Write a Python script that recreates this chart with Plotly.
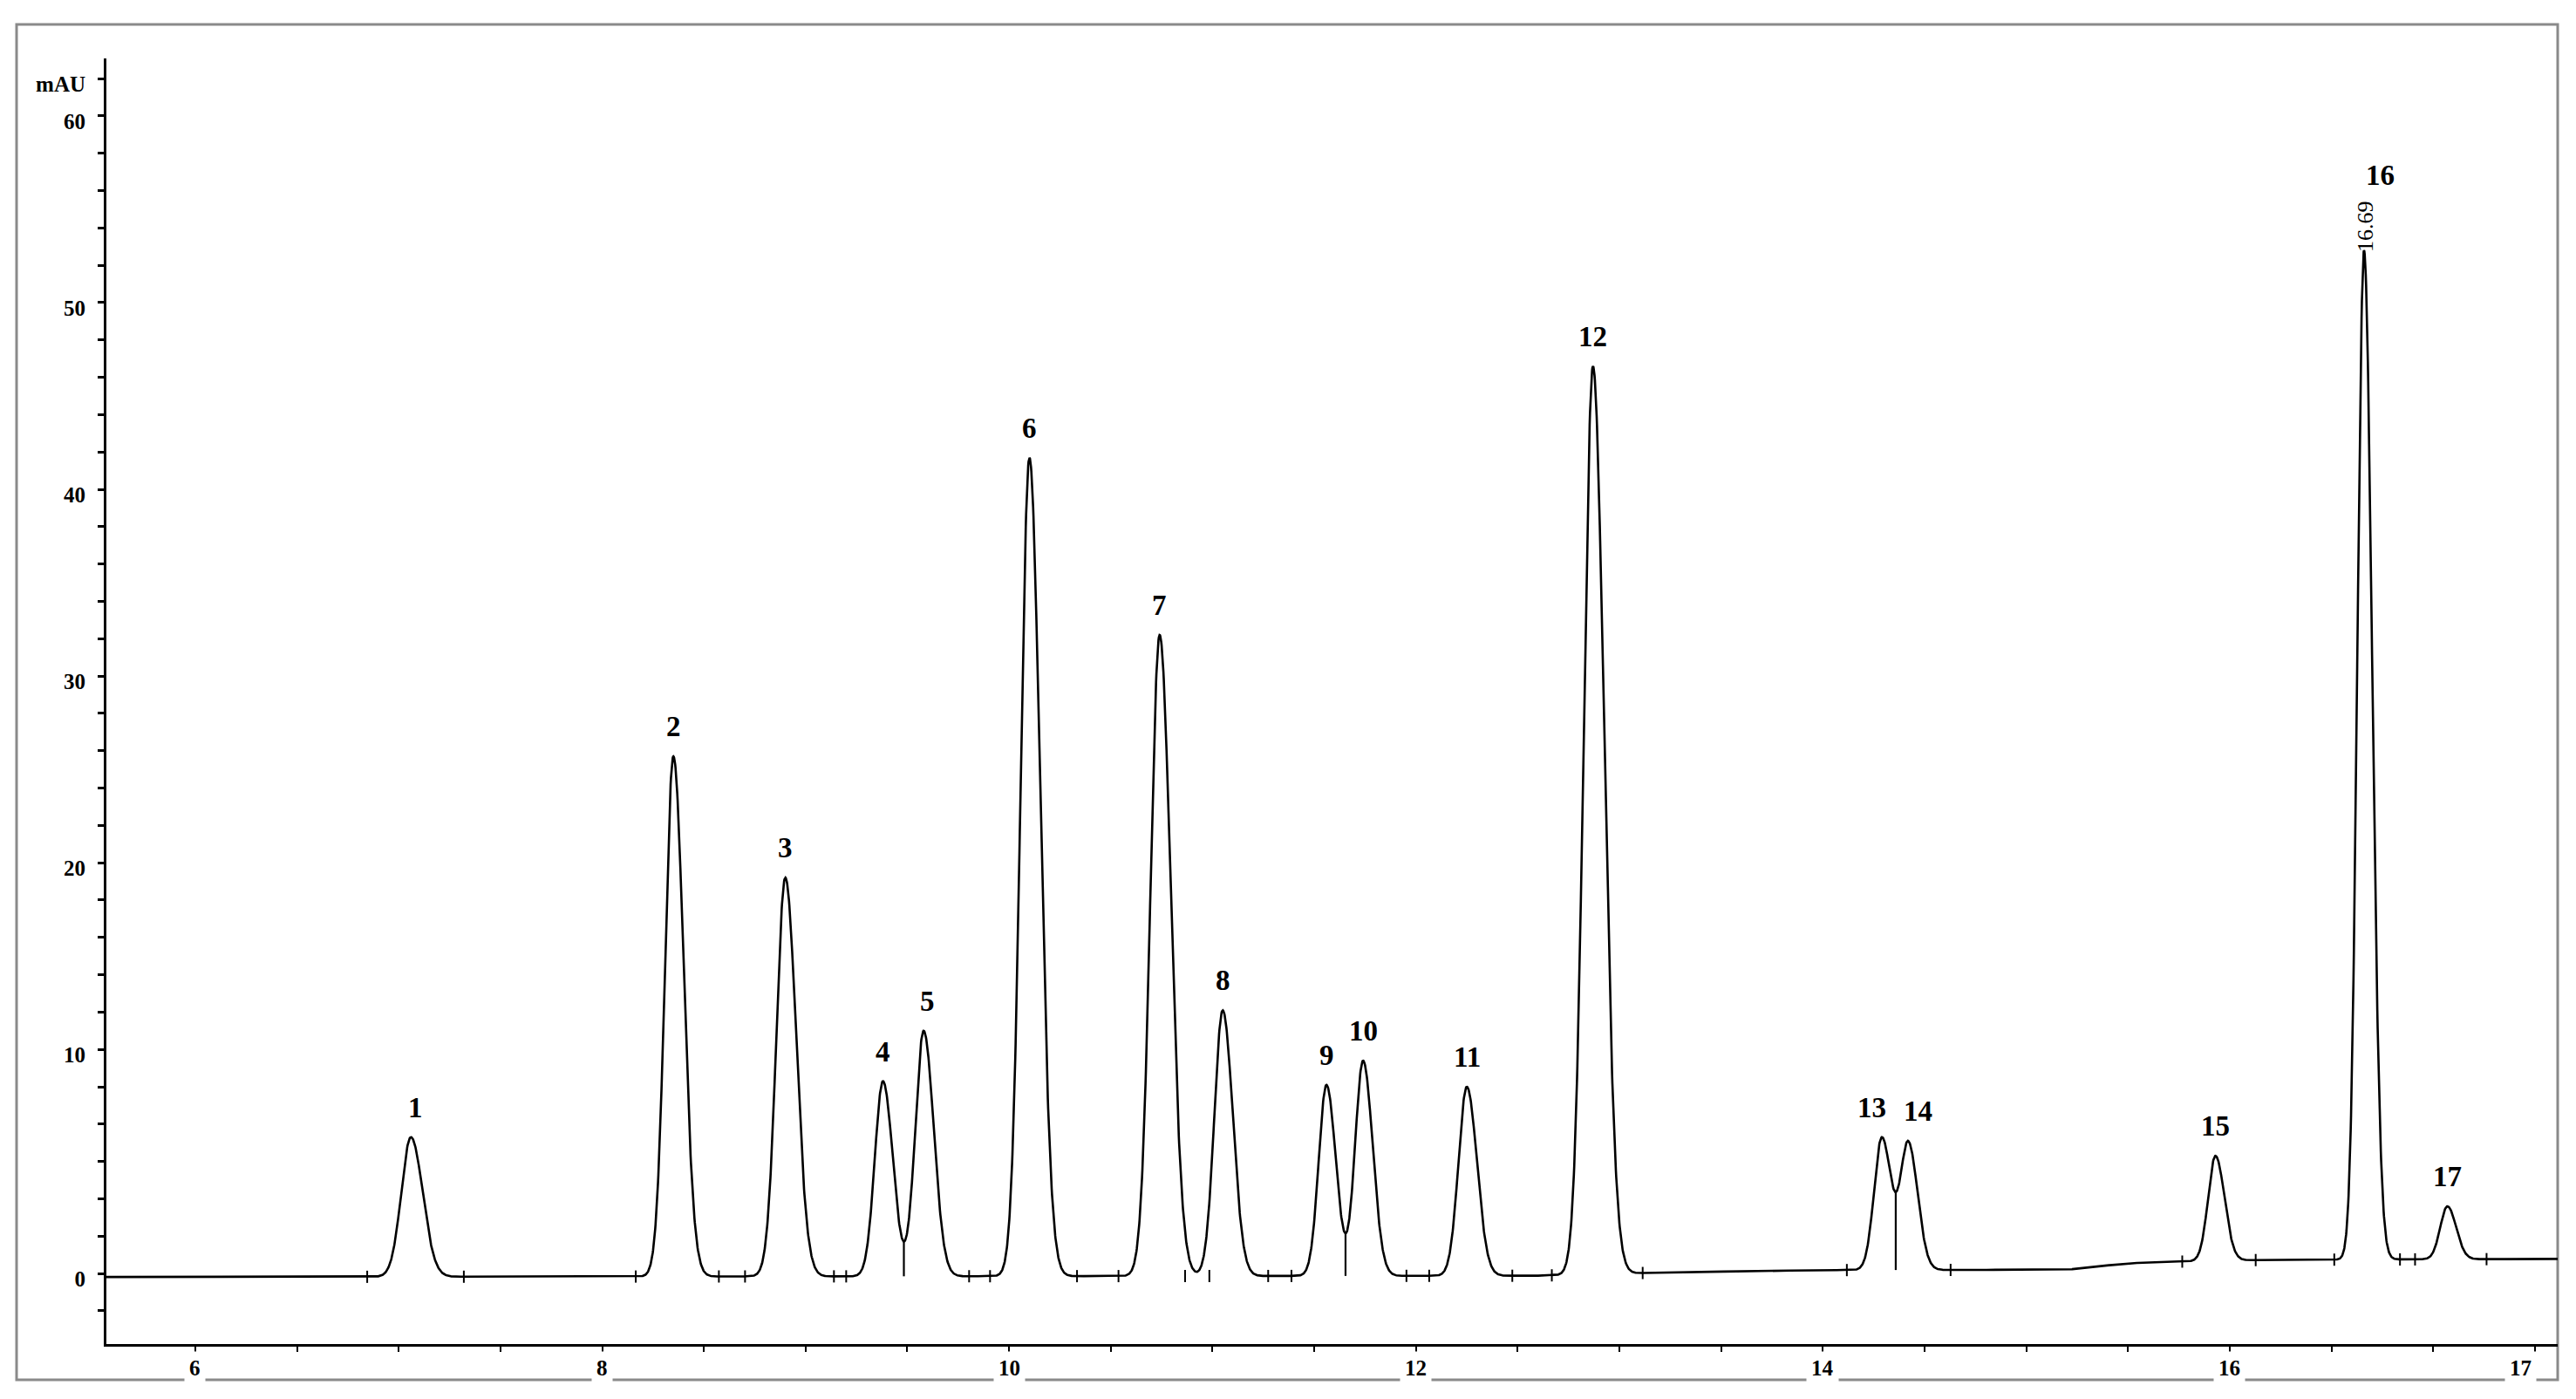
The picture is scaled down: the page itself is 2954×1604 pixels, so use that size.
import numpy as np
import plotly.graph_objects as go

# ---------------- data ----------------
peak_labels = ["1", "2", "3", "4", "5", "6", "7", "8", "9", "10",
               "11", "12", "13", "14", "15", "16", "17"]
retention_min = [7.06, 8.35, 8.90, 9.38, 9.58, 10.10, 10.74, 11.05, 11.56, 11.74,
                 12.25, 12.87, 14.29, 14.42, 15.93, 16.66, 17.07]
apex_mAU = [5.3, 25.7, 19.2, 8.3, 11.0, 41.7, 32.2, 12.1, 8.1, 9.4,
            8.0, 46.6, 5.3, 5.1, 4.3, 52.8, 1.6]
width_min = [0.050, 0.043, 0.046, 0.042, 0.043, 0.045, 0.047, 0.043, 0.040, 0.041,
             0.043, 0.047, 0.040, 0.040, 0.038, 0.034, 0.037]

baseline_time = [5.56, 12.6, 13.2, 14.0, 15.2, 15.5, 15.9, 16.2, 17.62]
baseline_mAU = [-2.19, -2.12, -1.95, -1.82, -1.80, -1.45, -1.32, -1.27, -1.22]

rt_label_peak = "16"
rt_label_text = "16.69"

drop_line_pairs = [("4", "5"), ("9", "10"), ("13", "14")]

y_tick_vals = [-2, 10, 20, 30, 40, 50, 60, 62]
y_tick_text = ["0", "10", "20", "30", "40", "50", "60", "mAU"]
x_tick_vals = [6, 8, 10, 12, 14, 16, 17.43]
x_tick_text = ["6", "8", "10", "12", "14", "16", "17"]

x_range = [5.563, 17.612]
y_range = [-5.78, 63.08]

# ---------------- styles ----------------
# the page body adds an 8 px margin, so the figure is drawn 16 px smaller
PAGE_PAD = 8
W, H = 2954 - 2 * PAGE_PAD, 1604 - 2 * PAGE_PAD
M = dict(l=122 - PAGE_PAD, r=2954 - 2933 - PAGE_PAD, t=67 - PAGE_PAD, b=1604 - 1541 - PAGE_PAD)
PLOT_W = W - M["l"] - M["r"]
PLOT_H = H - M["t"] - M["b"]
LINE = "#000000"
FRAME = "#8a8a8a"
SERIF = "Liberation Serif"
label_xshift = {"1": 5, "5": 4, "13": -11, "14": 11, "16": 19}
label_yshift = {"16": 86}
TAIL_L, TAIL_R = 0.95, 1.15

# ---------------- build chromatogram ----------------
t = np.linspace(x_range[0], x_range[1], 7000)
mu = np.array(retention_min)
sig = np.array(width_min)


def shape(tt, m, s):
    tt = np.asarray(tt, dtype=float)
    ss = np.where(tt < m, s * TAIL_L, s * TAIL_R)
    return np.exp(-0.5 * ((tt - m) / ss) ** 2)


base_apex = np.interp(mu, baseline_time, baseline_mAU)
G = np.array([[shape(mu[i], mu[j], sig[j]) for j in range(len(mu))] for i in range(len(mu))])
amp = np.linalg.solve(G, np.array(apex_mAU) - base_apex)

base = np.interp(t, baseline_time, baseline_mAU)
signal = base.copy()
for a, m, s in zip(amp, mu, sig):
    signal += a * shape(t, m, s)

fig = go.Figure()
fig.add_trace(go.Scatter(x=t, y=signal, mode="lines",
                         line=dict(color=LINE, width=2.6), hoverinfo="skip",
                         showlegend=False))

# perpendicular drop lines at valleys
for a_lab, b_lab in drop_line_pairs:
    i, j = peak_labels.index(a_lab), peak_labels.index(b_lab)
    sel = (t > mu[i]) & (t < mu[j])
    k = np.argmin(signal[sel])
    tv = t[sel][k]
    fig.add_trace(go.Scatter(x=[tv, tv], y=[np.interp(tv, baseline_time, baseline_mAU), signal[sel][k]],
                             mode="lines", line=dict(color=LINE, width=2.2),
                             hoverinfo="skip", showlegend=False))

# small integration marks on the baseline (peak start / end)
marks = []
for idx, lab in enumerate(peak_labels):
    pair_first = any(lab == p[0] for p in drop_line_pairs)
    pair_second = any(lab == p[1] for p in drop_line_pairs)
    if not pair_second:
        marks.append(mu[idx] - 4.3 * sig[idx])
    if not pair_first:
        marks.append(mu[idx] + 5.2 * sig[idx])
marks = np.array(marks)
fig.add_trace(go.Scatter(x=marks, y=np.interp(marks, baseline_time, baseline_mAU), mode="markers",
                         marker=dict(symbol="line-ns", size=10,
                                     line=dict(color=LINE, width=2)),
                         hoverinfo="skip", showlegend=False))

# peak number labels
for idx, lab in enumerate(peak_labels):
    fig.add_annotation(x=mu[idx], y=apex_mAU[idx], text=lab, showarrow=False,
                       xanchor="center", yanchor="middle",
                       xshift=label_xshift.get(lab, 0), yshift=label_yshift.get(lab, 34),
                       font=dict(family=SERIF, size=33, color=LINE, weight="bold"))

# retention time label on peak 16
k16 = peak_labels.index(rt_label_peak)
fig.add_annotation(x=mu[k16], y=apex_mAU[k16], text=rt_label_text, showarrow=False,
                   textangle=-90, xanchor="center", yanchor="middle", yshift=28, xshift=1,
                   font=dict(family=SERIF, size=26, color=LINE))

# x tick labels (sit on the outer frame line, with white gap)
for v, s in zip(x_tick_vals, x_tick_text):
    fig.add_annotation(x=v, xref="x", y=-(1569 - 1541) / PLOT_H, yref="paper", text=s,
                       showarrow=False, xanchor="center", yanchor="middle",
                       bgcolor="white", borderpad=5,
                       font=dict(family=SERIF, size=25, color=LINE, weight="bold"))

# outer frame (absolute page px: x 19..2933, y 28..1582)
fig.add_shape(type="rect", xref="paper", yref="paper",
              x0=(19 - 122) / PLOT_W, x1=1.0,
              y0=-(1582 - 1541) / PLOT_H,
              y1=1 + (67 - 28) / PLOT_H,
              line=dict(color=FRAME, width=3), layer="below")

fig.update_layout(
    width=W, height=H, margin=M, autosize=False,
    paper_bgcolor="white", plot_bgcolor="white", showlegend=False,
    xaxis=dict(range=x_range, showgrid=False, zeroline=False,
               showline=True, linecolor=LINE, linewidth=3,
               ticks="outside", tickmode="linear", tick0=0, dtick=0.5,
               ticklen=6, tickwidth=2, tickcolor=LINE, showticklabels=False),
    yaxis=dict(range=y_range, showgrid=False, zeroline=False,
               showline=True, linecolor=LINE, linewidth=3,
               tickmode="array", tickvals=y_tick_vals, ticktext=y_tick_text,
               ticks="outside", ticklen=7, tickwidth=2.5, tickcolor=LINE,
               ticklabelstandoff=9, ticklabelshift=6,
               minor=dict(tickmode="linear", tick0=0, dtick=2, ticks="outside",
                          ticklen=7, tickwidth=2.5, tickcolor=LINE),
               tickfont=dict(family=SERIF, size=25, color=LINE, weight="bold")),
)

fig.write_html("out.html")
